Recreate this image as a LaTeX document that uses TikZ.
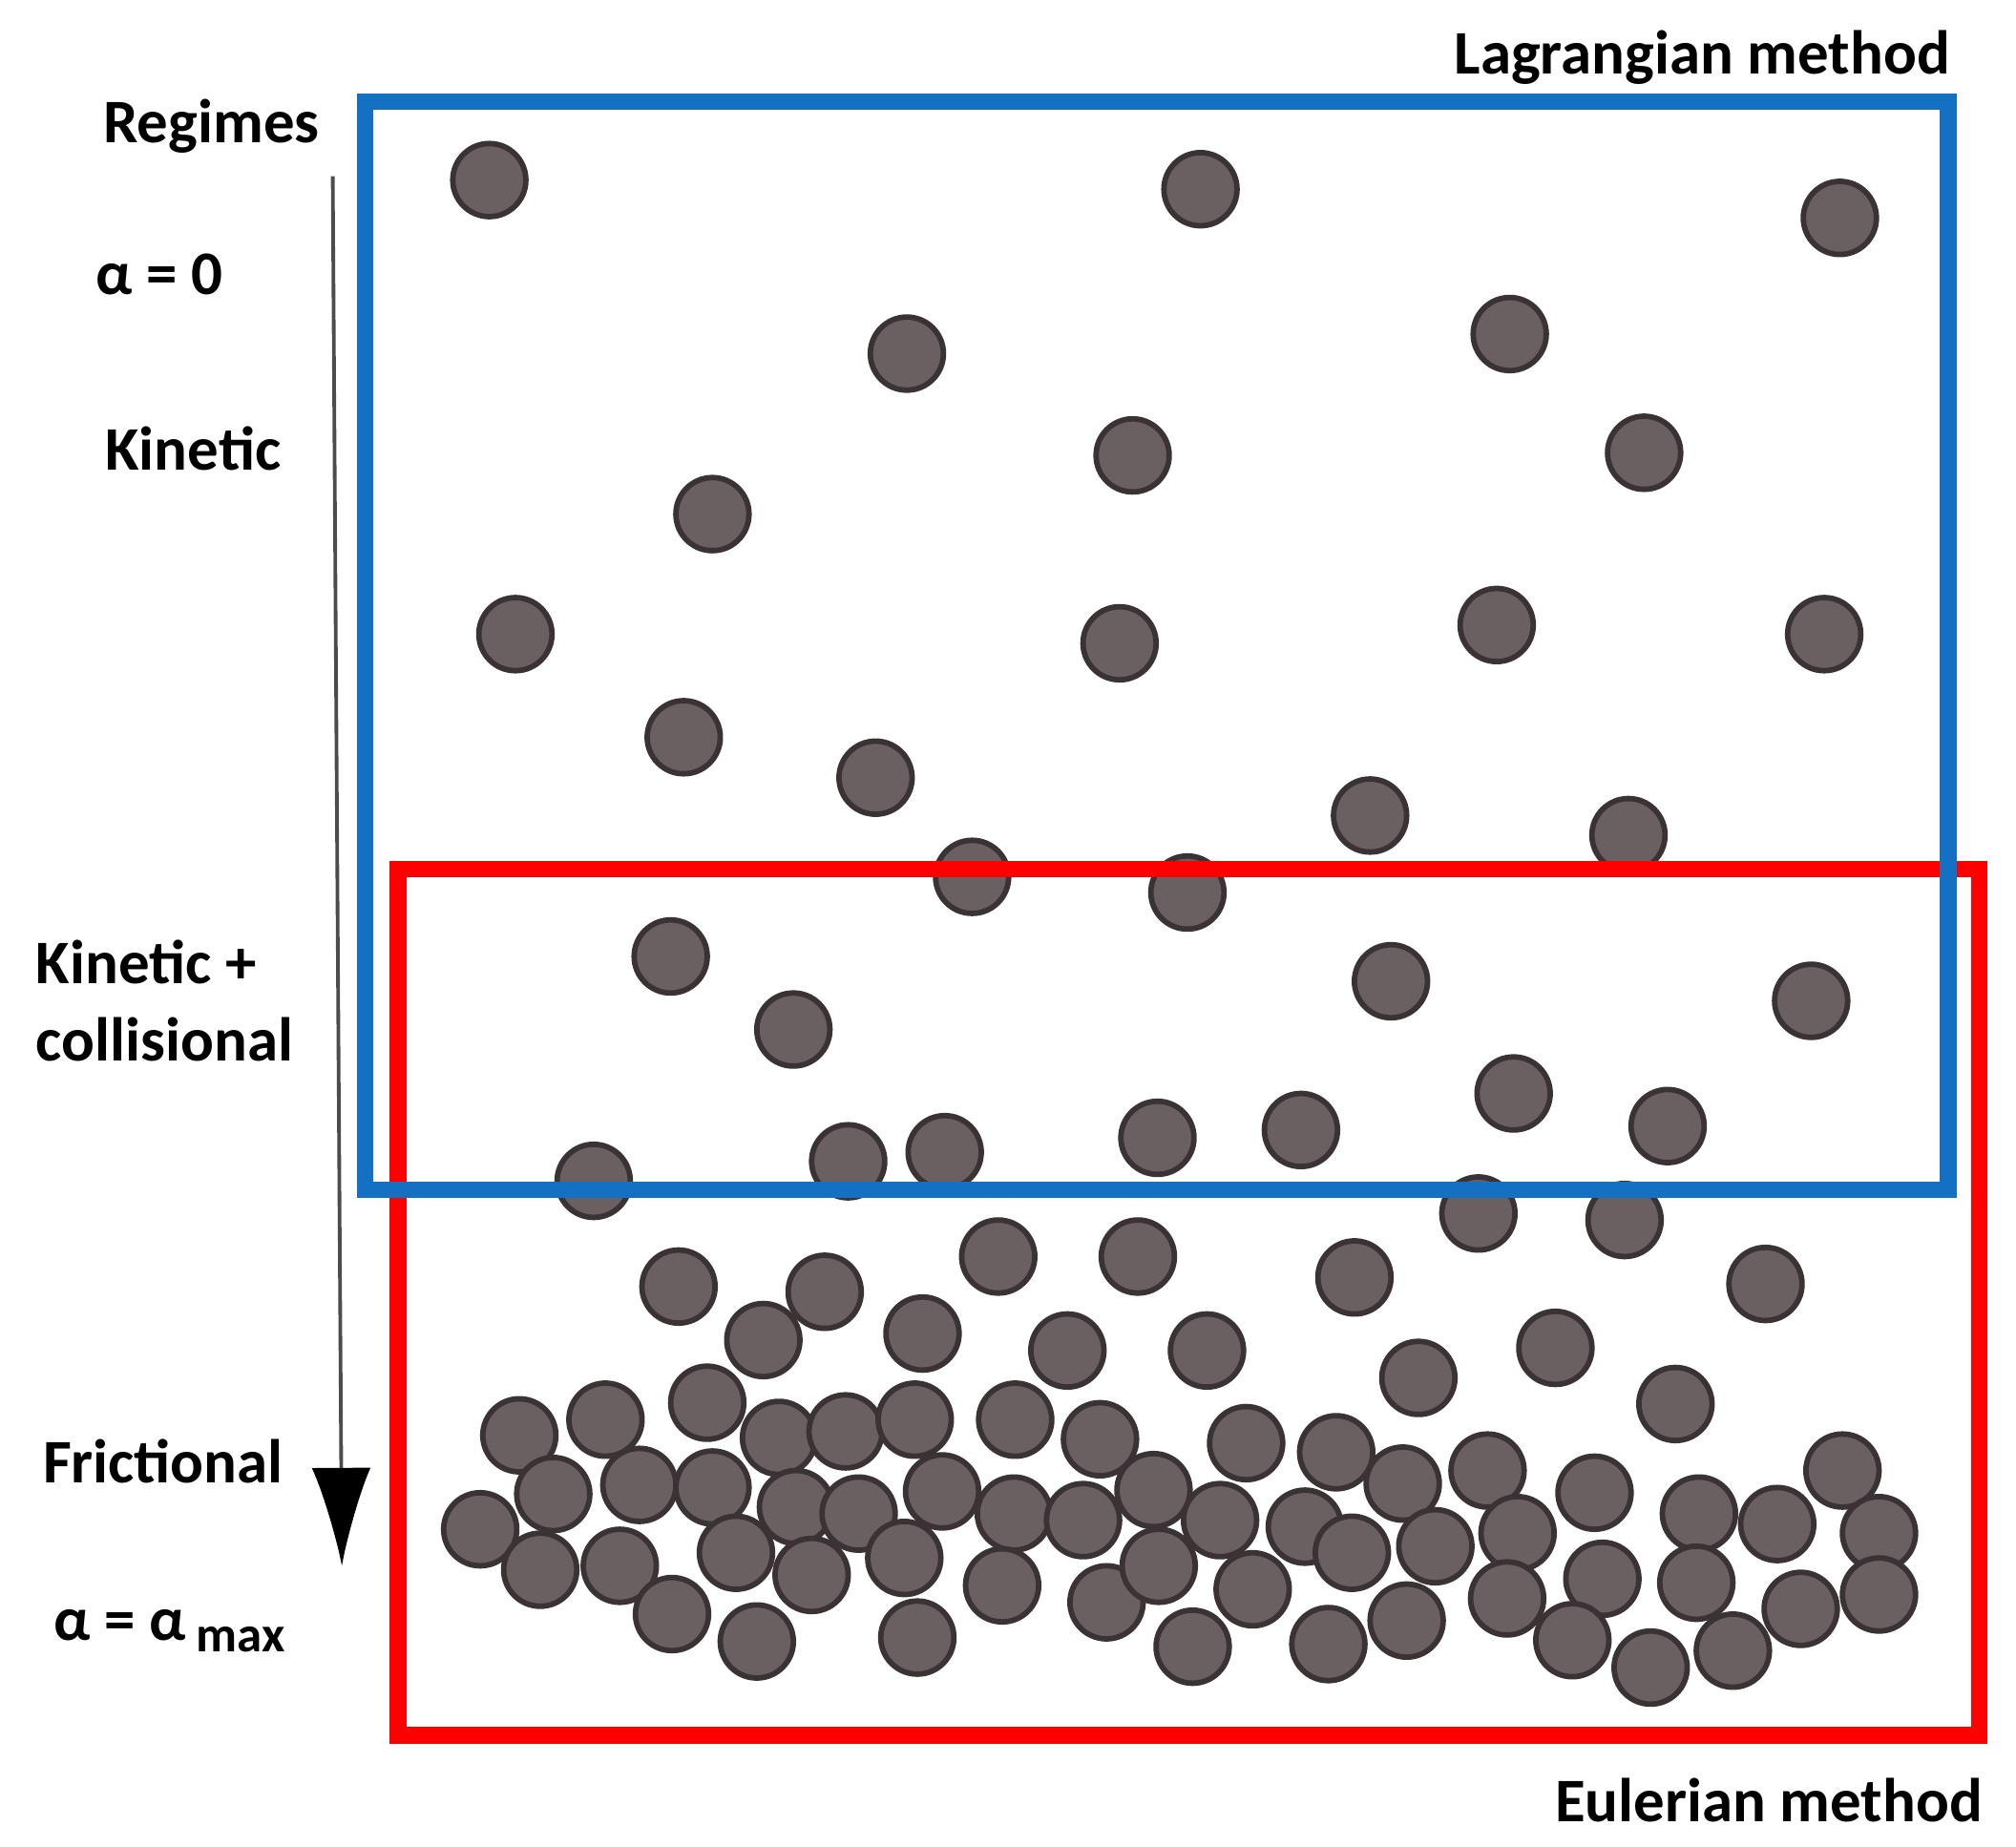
\documentclass[tikz,border=0pt]{standalone}
\usepackage{fontspec}
\setmainfont{Carlito}
\usetikzlibrary{arrows.meta}
\definecolor{grainfill}{HTML}{6A6062}
\definecolor{grainedge}{HTML}{3A3234}
\definecolor{lagblue}{HTML}{1470C2}
\begin{document}
\begin{tikzpicture}[x=0.01cm,y=-0.01cm,
  grain/.style={circle,draw=grainedge,line width=1.2pt,fill=grainfill,minimum size=0.56cm,inner sep=0pt},
  lbl/.style={font=\bfseries\fontsize{13.5}{15}\selectfont,inner sep=0pt},
  box/.style={line width=3.6pt}]
\useasboundingbox (0,0) rectangle (1545,1415);
\foreach \x/\y [count=\i] in {375/138,920/145,1410/167,695/271,1157/256,868/349,1260/347,546/394,395/486,858/493,1147/479,1398/486,524/565,671/596,1050/625,1248/640,745/672,910/684,514/733,1066/752,1388/767,608/789,1160/838,1278/863,997/866,887/872,724/883,650/890,455/905,1133/930,1245/935,765/963,872/963,520/986,632/990,1038/979,1353/984,585/1027,707/1022,818/1035,925/1035,1192/1033,1087/1056,1284/1076,
398/1100,464/1088,542/1075,597/1102,648/1097,701/1088,778/1088,843/1103,955/1106,1024/1113,1140/1127,1412/1127,
424/1145,490/1138,546/1140,610/1155,658/1160,722/1143,777/1160,830/1165,884/1142,935/1165,1000/1170,1075/1137,1163/1175,1222/1144,1302/1160,1362/1168,1440/1175,
368/1172,414/1203,475/1200,564/1190,622/1207,693/1194,768/1215,848/1228,888/1200,960/1218,1036/1190,1100/1185,1155/1225,1228/1210,1300/1213,1380/1233,1440/1222,
515/1237,580/1258,703/1255,914/1262,1018/1260,1078/1242,1205/1257,1265/1278,1328/1265}
  \node[grain] (g\i) at (\x,\y) {};
\draw[box,red] (305,666) rectangle (1517,1330);
\draw[box,lagblue] (280,78) rectangle (1493,912);
\coordinate (atop) at (255,135);
\coordinate (abot) at (262,1200);
\draw[black!70,line width=0.8pt,-{Latex[length=0.75cm,width=0.45cm,black]}] (atop) -- (abot);
\node[lbl] (reg) at (162,97) {Regimes};
\node[lbl] (a0) at (122,210) {α = 0};
\node[lbl] (kin) at (148,344) {Kinetic};
\node[lbl,anchor=west,align=left] (kc) at (27,767) {Kinetic +\\[2pt]collisional};
\node[lbl] (fr) at (125,1120) {Frictional};
\node[lbl] (amax) at (130,1250) {α = α\,\raisebox{-0.4ex}{\fontsize{11}{12}\selectfont max}};
\node[lbl,anchor=east] (lag) at (1495,44) {Lagrangian method};
\node[lbl,anchor=east] (eul) at (1520,1380) {Eulerian method};
\end{tikzpicture}
\end{document}
